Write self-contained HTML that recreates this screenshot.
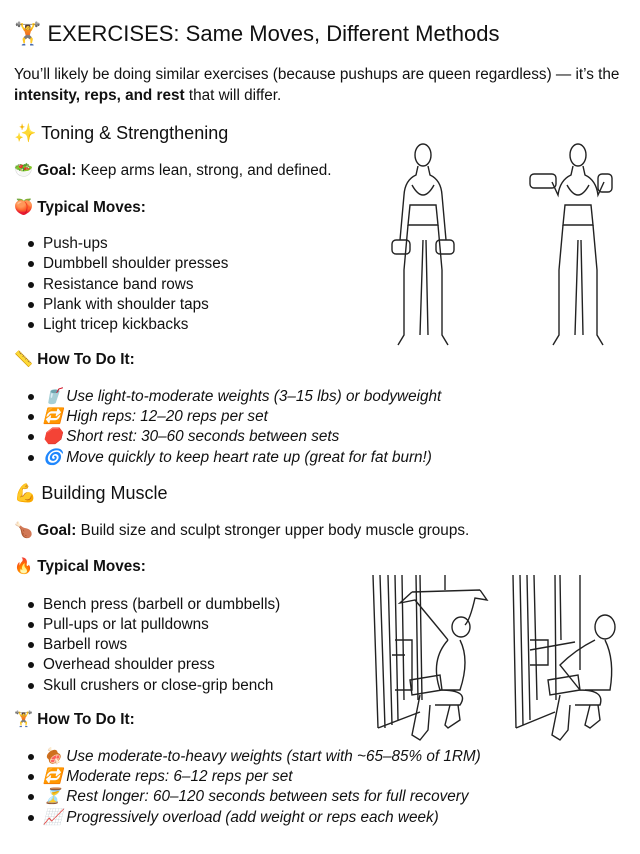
<!DOCTYPE html>
<html><head><meta charset="utf-8"><style>
body{margin:0;width:640px;height:854px;background:#fff;position:relative;overflow:hidden;font-family:"Liberation Sans","Noto Sans CJK SC",sans-serif;color:#111}
.t{position:absolute;left:14px;white-space:nowrap;font-size:15.3px;line-height:20px}
.h1{font-size:22px;line-height:28px}
.h2{font-size:18px;line-height:24px}
.b{position:absolute;left:43px;font-size:15.3px;line-height:20px;white-space:nowrap}
.b:before{content:"";position:absolute;left:-15px;top:7px;width:6px;height:6px;border-radius:50%;background:#111}
i{font-style:italic}
svg{position:absolute}
</style></head><body>
<div class="t h1" style="top:20px">🏋️ EXERCISES: Same Moves, Different Methods</div>
<div class="t" style="top:65px">You’ll likely be doing similar exercises (because pushups are queen regardless) — it’s the</div>
<div class="t" style="top:86px"><b>intensity, reps, and rest</b> that will differ.</div>
<div class="t h2" style="top:121px">✨ Toning &amp; Strengthening</div>
<div class="t" style="top:161px">🥗 <b>Goal:</b> Keep arms lean, strong, and defined.</div>
<div class="t" style="top:198px">🍑 <b>Typical Moves:</b></div>
<div class="b" style="top:234px">Push-ups</div>
<div class="b" style="top:254px">Dumbbell shoulder presses</div>
<div class="b" style="top:275px">Resistance band rows</div>
<div class="b" style="top:295px">Plank with shoulder taps</div>
<div class="b" style="top:315px">Light tricep kickbacks</div>
<div class="t" style="top:350px">📏 <b>How To Do It:</b></div>
<div class="b" style="top:387px"><i>🥤 Use light-to-moderate weights (3–15 lbs) or bodyweight</i></div>
<div class="b" style="top:407px"><i>🔁 High reps: 12–20 reps per set</i></div>
<div class="b" style="top:427px"><i>🛑 Short rest: 30–60 seconds between sets</i></div>
<div class="b" style="top:448px"><i>🌀 Move quickly to keep heart rate up (great for fat burn!)</i></div>
<div class="t h2" style="top:481px">💪 Building Muscle</div>
<div class="t" style="top:521px">🍗 <b>Goal:</b> Build size and sculpt stronger upper body muscle groups.</div>
<div class="t" style="top:557px">🔥 <b>Typical Moves:</b></div>
<div class="b" style="top:595px">Bench press (barbell or dumbbells)</div>
<div class="b" style="top:615px">Pull-ups or lat pulldowns</div>
<div class="b" style="top:635px">Barbell rows</div>
<div class="b" style="top:655px">Overhead shoulder press</div>
<div class="b" style="top:676px">Skull crushers or close-grip bench</div>
<div class="t" style="top:710px">🏋️ <b>How To Do It:</b></div>
<div class="b" style="top:747px"><i>🍖 Use moderate-to-heavy weights (start with ~65–85% of 1RM)</i></div>
<div class="b" style="top:767px"><i>🔁 Moderate reps: 6–12 reps per set</i></div>
<div class="b" style="top:787px"><i>⏳ Rest longer: 60–120 seconds between sets for full recovery</i></div>
<div class="b" style="top:808px"><i>📈 Progressively overload (add weight or reps each week)</i></div>

<svg width="640" height="854" style="left:0;top:0" fill="none" stroke="#222" stroke-width="1.4">
<!-- figure 1 -->
<ellipse cx="423" cy="155" rx="8" ry="11"/>
<path d="M418 166 L416 175 Q405 180 404 195 L400 240 M428 166 L430 175 Q441 180 442 195 L446 240"/>
<path d="M412 185 Q423 205 434 185 M410 205 L436 205 L438 225 L408 225 Z"/>
<path d="M408 225 L404 270 L404 335 L398 345 M438 225 L442 270 L442 335 L448 345 M423 240 L420 335 M426 240 L428 335"/>
<rect x="392" y="240" width="18" height="14" rx="4"/><rect x="436" y="240" width="18" height="14" rx="4"/>
<!-- figure 2 -->
<ellipse cx="578" cy="155" rx="8" ry="11"/>
<path d="M573 166 L571 175 Q560 180 558 195 L552 182 M583 166 L585 175 Q596 180 598 195 L604 182"/>
<path d="M567 185 Q578 205 589 185 M565 205 L591 205 L593 225 L563 225 Z"/>
<path d="M563 225 L559 270 L559 335 L553 345 M593 225 L597 270 L597 335 L603 345 M578 240 L575 335 M581 240 L583 335"/>
<rect x="530" y="174" width="26" height="14" rx="4"/><rect x="598" y="174" width="14" height="18" rx="4"/>
<!-- machine 1 -->
<path d="M373 575 L378 728 M380 575 L385 728 M388 575 L392 725 M395 575 L398 720 M402 575 L404 700 M416 575 L418 700 M420 575 L422 700 M378 728 L420 712"/>
<path d="M395 640 L412 640 L412 690 L395 690 M392 655 L405 655"/>
<path d="M412 592 L480 590 M445 575 L445 590 M412 592 L400 603 L415 600 Q440 630 448 640 M480 590 L487 600 L475 598 Q470 620 465 625"/>
<ellipse cx="461" cy="627" rx="9" ry="10"/>
<path d="M448 640 Q430 660 440 690 L460 690 Q470 660 460 640 M410 680 L440 675 L442 690 L412 695 Z M440 690 Q470 690 460 705 L435 705 M420 695 L412 735 L420 740 L428 730 L430 705 M450 705 L445 725 L448 728 L460 720 L458 705"/>
<!-- machine 2 -->
<path d="M513 575 L516 728 M520 575 L523 725 M527 575 L530 720 M534 575 L537 700 M555 575 L556 700 M560 575 L561 640 M580 575 L580 670 M516 728 L555 712"/>
<path d="M530 640 L548 640 L548 665 L530 665 M530 650 L575 642"/>
<ellipse cx="605" cy="627" rx="10" ry="12"/>
<path d="M595 640 Q575 650 560 665 L580 690 M605 640 Q615 660 610 690 L585 690 M548 680 L578 675 L580 690 L550 695 Z M580 690 Q605 690 600 705 L575 705 M560 695 L552 735 L560 740 L568 730 L570 705 M590 705 L585 725 L590 728 L600 720 L598 705"/>
</svg>
</body></html>
